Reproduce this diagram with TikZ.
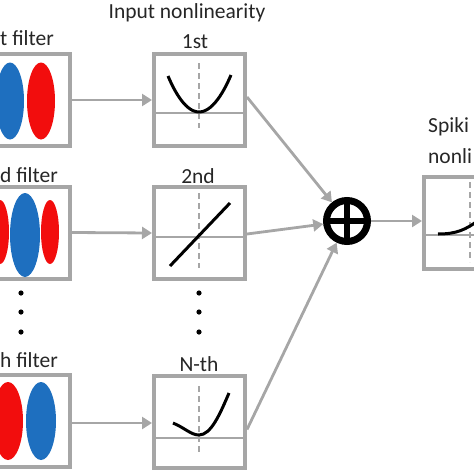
\documentclass[tikz,border=0pt]{standalone}
\usepackage{fontspec}
\setmainfont{Carlito}
\usetikzlibrary{arrows.meta}
\definecolor{boxgray}{HTML}{A6A6A6}
\definecolor{fblue}{HTML}{1E6FBF}
\definecolor{fred}{HTML}{F20D0D}
\tikzset{
  panel/.style={draw=boxgray, line width=4pt, minimum width=91pt, minimum height=92pt, inner sep=0pt},
  flow/.style={draw=boxgray, line width=2.8pt, -{Triangle[length=10pt,width=12pt]}},
  lbl/.style={font=\fontsize{21.5pt}{24pt}\selectfont, inner sep=0pt, text=black!85},
  axis/.style={draw=boxgray, line width=1.3pt},
  vaxis/.style={draw=boxgray, line width=1.3pt, dash pattern=on 6pt off 4pt},
  curve/.style={draw=black, line width=3pt},
  dotm/.style={fill=black}
}
\begin{document}
\begin{tikzpicture}[x=1pt,y=-1pt]
\useasboundingbox (0,0) rectangle (474,474);
\clip (0,0) rectangle (474,474);

% title
\node[lbl] (title) at (187,13) {Input nonlinearity};

% filter boxes
\node[panel] (f1) at (24.5,100) {};
\node[panel] (f2) at (24.5,232.5) {};
\node[panel] (f3) at (24.5,420.5) {};
\node[lbl, anchor=west] (lf1) at (0,38) {t filter};
\node[lbl, anchor=west] (lf2) at (0,175) {d filter};
\node[lbl, anchor=west] (lf3) at (0,360) {h filter};

% ellipses
\fill[fblue] (10,101) ellipse (14 and 38.5);
\fill[fred] (41,101) ellipse (14 and 38.5);
\fill[fred] (0,232) ellipse (9 and 32);
\fill[fblue] (25,235) ellipse (15 and 42);
\fill[fred] (50,232) ellipse (9 and 32);
\fill[fred] (8,421) ellipse (15 and 39);
\fill[fblue] (41,421) ellipse (15 and 39);

% nonlinearity boxes
\node[panel] (m1) at (199.5,100) {};
\node[panel] (m2) at (199.5,233) {};
\node[panel] (m3) at (199.5,421.5) {};
\node[lbl] (l1) at (195,42) {1st};
\node[lbl] (l2) at (198,176) {2nd};
\node[lbl] (l3) at (199,364) {N-th};

% box 1 content
\draw[axis] (154,113) -- (245,113);
\draw[vaxis] (199,63) -- (199,128);
\draw[curve] (168,76) parabola bend (199,112) (231,75);
% box 2 content
\draw[axis] (154,237) -- (245,237);
\draw[vaxis] (199,193) -- (199,268);
\draw[curve] (170,266) -- (230,203);
% box 3 content
\draw[axis] (154,438) -- (245,438);
\draw[vaxis] (199,386) -- (199,453);
\draw[curve] (173,423) .. controls (185,428) and (191,435) .. (199,435)
  .. controls (211,435) and (220,414) .. (229,393);

% dots
\foreach \yy [count=\i] in {293,312,332} {
  \fill[dotm] (21,\yy) circle (2.6);
  \fill[dotm] (199,\yy) circle (2.6);
}

% sum node
\node[circle, draw=black, line width=7pt, minimum size=41pt, inner sep=0pt] (sum) at (347,221) {};
\draw[black, line width=6pt] ([yshift=-21pt]sum.center) -- ([yshift=21pt]sum.center);
\draw[black, line width=6pt] ([xshift=-21pt]sum.center) -- ([xshift=21pt]sum.center);

% spiking nonlinearity box
\node[panel] (sp) at (469.5,222.5) {};
\node[lbl, anchor=west] (ls1) at (428,127) {Spiki};
\node[lbl, anchor=west] (ls2) at (428,156) {nonli};
\draw[axis] (424,235) -- (474,235);
\draw[vaxis] (470,182) -- (470,262);
\draw[curve] (438,234) .. controls (456,234) and (466,230) .. (480,219);

% connectors
\draw[flow] (f1.east) -- (m1.west);
\draw[flow] (f2.east) -- (m2.west);
\draw[flow] (f3.east |- 0,423) -- (m3.west |- 0,423);
\draw[flow] ([yshift=3pt]m1.east) -- (sum);
\draw[flow] ([yshift=-1pt]m2.east) -- (sum);
\draw[flow] ([yshift=-8pt]m3.east) -- (sum);
\draw[flow] (sum) -- (sp.west |- sum);
\end{tikzpicture}
\end{document}
